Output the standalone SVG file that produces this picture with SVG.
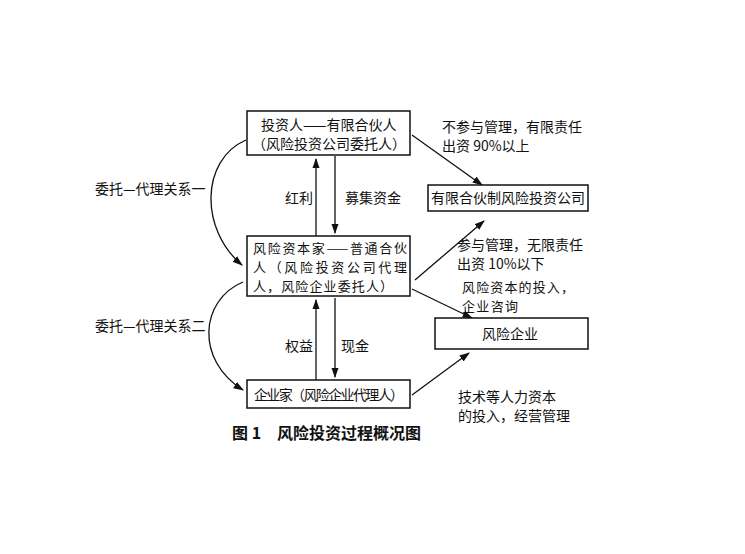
<svg xmlns="http://www.w3.org/2000/svg" width="745" height="554" viewBox="0 0 745 554">
<style>
text{font-family:"Noto Sans CJK SC","Liberation Serif",serif;font-size:14px;fill:#111}
.s{font-size:13px}
.b{fill:#fff;stroke:#111;stroke-width:1.5}
.c{fill:none;stroke:#111;stroke-width:1.3;marker-end:url(#a)}
</style>
<defs><marker id="a" viewBox="0 0 10 10" refX="9" refY="5" markerWidth="8" markerHeight="8" orient="auto"><path d="M0,1.5L10,5L0,8.5z" fill="#111"/></marker></defs>
<rect width="745" height="554" fill="#fff"/>
<g id="connectors">
<path class="c" d="M316,236V159"/><path class="c" d="M335,156V233"/>
<path class="c" d="M316,380V300"/><path class="c" d="M335,298V377"/>
<path class="c" d="M246,140C200,160 200,230 242,265"/>
<path class="c" d="M243,282C200,300 195,360 243,390"/>
<path class="c" d="M412,135L482,185"/><path class="c" d="M415,280L484,221"/>
<path class="c" d="M412,289L472,318"/><path class="c" d="M412,395L469,353"/>
</g>
<g id="n1"><rect class="b" x="247" y="111" width="163" height="44"/><text x="261" y="130">投资人——有限合伙人</text><text x="252" y="149">（风险投资公司委托人）</text></g>
<g id="n2"><rect class="b" x="247" y="236" width="163" height="60"/><text class="s" x="253" y="253" textLength="154">风险资本家——普通合伙</text><text class="s" x="253" y="272" textLength="154">人（风险投资公司代理</text><text class="s" x="253" y="291" textLength="140">人，风险企业委托人）</text></g>
<g id="n3"><rect class="b" x="247" y="380" width="163" height="28"/><text x="254" y="400" textLength="150">企业家（风险企业代理人）</text></g>
<g id="n4"><rect class="b" x="428" y="185" width="160" height="26"/><text x="431" y="203" textLength="154">有限合伙制风险投资公司</text></g>
<g id="n5"><rect class="b" x="435" y="318" width="153" height="31"/><text x="482" y="339">风险企业</text></g>
<text x="95" y="194">委托—代理关系一</text>
<text x="95" y="331">委托—代理关系二</text>
<text x="285" y="203">红利</text><text x="345" y="203">募集资金</text>
<text x="285" y="351">权益</text><text x="341" y="351">现金</text>
<text x="442" y="132">不参与管理，有限责任</text><text x="442" y="151">出资 90%以上</text>
<text x="457" y="250">参与管理，无限责任</text><text x="457" y="269">出资 10%以下</text>
<text class="s" x="462" y="292" textLength="112">风险资本的投入，</text><text class="s" x="462" y="311" textLength="56">企业咨询</text>
<text x="458" y="402">技术等人力资本</text><text x="458" y="421">的投入，经营管理</text>
<text x="232" y="439" style="font-size:16px;font-weight:bold">图 1　风险投资过程概况图</text>
</svg>
